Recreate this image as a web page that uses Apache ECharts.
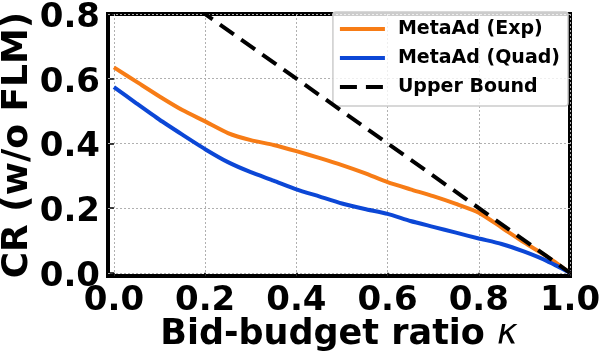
<!DOCTYPE html>
<html>
<head>
<meta charset="utf-8">
<script src="https://cdn.jsdelivr.net/npm/echarts@6/dist/echarts.min.js"></script>
<style>
  html, body { margin: 0; padding: 0; background: #fff; }
  #chart { width: 603px; height: 358px; }
</style>
</head>
<body>
<div id="chart"></div>
<script>
// values
var kappa = [0, 0.05, 0.1, 0.15, 0.2, 0.25, 0.3, 0.35, 0.4, 0.45, 0.5, 0.55, 0.6, 0.65, 0.7, 0.75, 0.8, 0.85, 0.9, 0.95, 1.0];
var expValues = [0.635, 0.59, 0.545, 0.503, 0.468, 0.432, 0.41, 0.395, 0.376, 0.355, 0.333, 0.308, 0.28, 0.258, 0.237, 0.213, 0.186, 0.14, 0.093, 0.05, 0];
var quadValues = [0.574, 0.523, 0.473, 0.427, 0.382, 0.342, 0.311, 0.285, 0.258, 0.236, 0.214, 0.197, 0.182, 0.16, 0.142, 0.124, 0.106, 0.089, 0.065, 0.036, 0];
var boundKappa = [0, 1];
var boundValues = [1, 0];
var yTicks = [0, 0.2, 0.4, 0.6, 0.8];
var xTicks = [0, 0.2, 0.4, 0.6, 0.8, 1.0];

var font = "DejaVu Sans";

function pairs(xs, ys) {
  return xs.map(function (x, i) { return [x, ys[i]]; });
}

var chart = echarts.init(document.getElementById("chart"));
chart.setOption({
  animation: false,
  grid: {
    left: 108, right: 33, top: 14, bottom: 82,
    outerBoundsMode: "none",
    show: true, borderColor: "#000", borderWidth: 4, backgroundColor: "transparent"
  },
  legend: {
    orient: "vertical",
    right: 35, top: 12,
    itemWidth: 45, itemHeight: 4, itemGap: 9,
    padding: [7, 8, 9, 5],
    backgroundColor: "rgba(255,255,255,0.8)",
    borderColor: "#cccccc", borderWidth: 1.5, borderRadius: 3,
    itemStyle: { opacity: 0 },
    lineStyle: { width: 4 },
    textStyle: {
      fontFamily: font, fontWeight: "bold", fontSize: 19, color: "#000",
      lineHeight: 20, padding: [0, 0, 0, 8]
    },
    data: ["MetaAd (Exp)", "MetaAd (Quad)", "Upper Bound"]
  },
  xAxis: {
    type: "value", min: -0.013, max: 1.0,
    name: "{b|Bid-budget ratio }{k|\u03ba}",
    nameLocation: "middle", nameGap: 41, nameMoveOverlap: false,
    nameTextStyle: {
      fontFamily: font, fontWeight: "bold", fontSize: 35, color: "#000",
      rich: {
        b: { fontFamily: font, fontWeight: "bold", fontSize: 35, color: "#000" },
        k: { fontFamily: font, fontStyle: "italic", fontWeight: "normal", fontSize: 35, color: "#000" }
      }
    },
    axisLine: { show: false },
    axisTick: { show: true, customValues: xTicks, length: 4, lineStyle: { color: "#000", width: 1.5 } },
    axisLabel: {
      customValues: xTicks, margin: 8,
      fontFamily: font, fontWeight: "bold", fontSize: 34, color: "#000",
      formatter: function (v) { return v.toFixed(1); }
    },
    splitLine: { show: true, lineStyle: { color: "#b0b0b0", width: 1, type: [2, 2] } }
  },
  yAxis: {
    type: "value", min: -0.01, max: 0.8,
    name: "CR (w/o FLM)",
    nameLocation: "middle", nameGap: 72, nameMoveOverlap: false,
    nameTextStyle: { fontFamily: font, fontWeight: "bold", fontSize: 36, color: "#000" },
    axisLine: { show: false },
    axisTick: { show: true, customValues: yTicks, length: 4, lineStyle: { color: "#000", width: 1.5 } },
    axisLabel: {
      customValues: yTicks, margin: 8, verticalAlign: "top", lineHeight: 8,
      fontFamily: font, fontWeight: "bold", fontSize: 34, color: "#000",
      formatter: function (v) { return v.toFixed(1); }
    },
    splitLine: { show: true, lineStyle: { color: "#b0b0b0", width: 1, type: [2, 2] } }
  },
  series: [
    {
      name: "MetaAd (Exp)", type: "line", data: pairs(kappa, expValues),
      smooth: 0.2, symbol: "none", color: "#f77c16",
      lineStyle: { width: 4, color: "#f77c16" }, z: 3
    },
    {
      name: "MetaAd (Quad)", type: "line", data: pairs(kappa, quadValues),
      smooth: 0.2, symbol: "none", color: "#0c47d6",
      lineStyle: { width: 4, color: "#0c47d6" }, z: 3
    },
    {
      name: "Upper Bound", type: "line", data: pairs(boundKappa, boundValues),
      symbol: "none", color: "#000",
      lineStyle: { width: 4, color: "#000", type: [17, 9] }, z: 4
    }
  ]
});
</script>
</body>
</html>
